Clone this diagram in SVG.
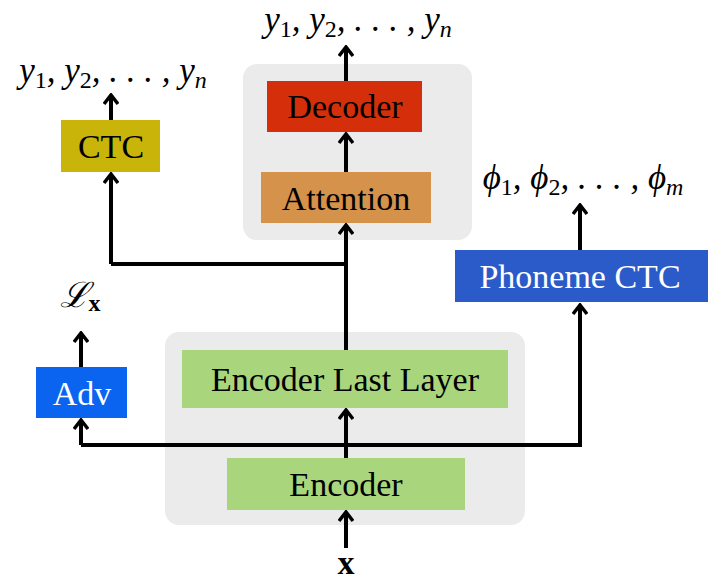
<svg xmlns="http://www.w3.org/2000/svg" width="708" height="585" viewBox="0 0 708 585">
<style>
text{font-family:"Liberation Serif",serif;font-size:34px;text-anchor:middle}
.m{font-style:italic;font-size:35px}
.w{fill:#fff}
.c{fill:none;stroke:#000;stroke-width:4;marker-end:url(#a)}
.l{fill:none;stroke:#000;stroke-width:4}
</style>
<defs><marker id="a" markerWidth="14" markerHeight="16" refX="12" refY="8" orient="auto" markerUnits="userSpaceOnUse" viewBox="0 0 14 16"><path d="M3,1 L12,8 L3,15" fill="none" stroke="#000" stroke-width="3.5"/></marker></defs>
<rect x="243" y="64" width="229" height="176" rx="14" fill="#ebebeb"/>
<rect x="165" y="332" width="360" height="193" rx="14" fill="#ebebeb"/>
<g id="connectors">
<path class="c" d="M346 81V47"/>
<path class="c" d="M346 172V134"/>
<path class="l" d="M346 350V264H111"/>
<path class="c" d="M346 264V225"/>
<path class="c" d="M111 264V174"/>
<path class="c" d="M111 120V95"/>
<path class="c" d="M580 250V205"/>
<path class="l" d="M346 458V445H81"/>
<path class="c" d="M346 445V410"/>
<path class="c" d="M81 445V420"/>
<path class="c" d="M346 445H580V305"/>
<path class="c" d="M81 367V333"/>
<path class="c" d="M346 548V512"/>
</g>
<g id="decoder"><rect x="267" y="81" width="155" height="51" fill="#d42f0a"/><text x="345" y="118">Decoder</text></g>
<g id="attention"><rect x="261" y="172" width="170" height="51" fill="#d4924b"/><text x="346" y="210">Attention</text></g>
<g id="ctc"><rect x="61" y="120" width="99" height="52" fill="#c9b40a"/><text x="111" y="158">CTC</text></g>
<g id="phoneme"><rect x="455" y="250" width="253" height="52" fill="#2b5bc9"/><text class="w" x="580" y="288">Phoneme CTC</text></g>
<g id="adv"><rect x="36" y="367" width="91" height="51" fill="#0a64ef"/><text class="w" x="82" y="405">Adv</text></g>
<g id="encll"><rect x="182" y="350" width="326" height="58" fill="#a9d67d"/><text x="345" y="391">Encoder Last Layer</text></g>
<g id="enc"><rect x="227" y="458" width="238" height="52" fill="#a9d67d"/><text x="346" y="496">Encoder</text></g>
<text class="m" x="358" y="31">y<tspan font-size="24" dy="6" font-style="normal">1</tspan><tspan dy="-6">, y</tspan><tspan font-size="24" dy="6" font-style="normal">2</tspan><tspan dy="-6">, . . . , y</tspan><tspan font-size="24" dy="6">n</tspan></text>
<text class="m" x="113" y="82">y<tspan font-size="24" dy="6" font-style="normal">1</tspan><tspan dy="-6">, y</tspan><tspan font-size="24" dy="6" font-style="normal">2</tspan><tspan dy="-6">, . . . , y</tspan><tspan font-size="24" dy="6">n</tspan></text>
<text class="m" x="583" y="189">ϕ<tspan font-size="24" dy="6" font-style="normal">1</tspan><tspan dy="-6">, ϕ</tspan><tspan font-size="24" dy="6" font-style="normal">2</tspan><tspan dy="-6">, . . . , ϕ</tspan><tspan font-size="24" dy="6">m</tspan></text>
<text class="m" x="80" y="307">ℒ<tspan font-size="24" dy="4" font-style="normal" font-weight="bold">x</tspan></text>
<text x="346" y="574" font-weight="bold" font-size="34">x</text>
</svg>
